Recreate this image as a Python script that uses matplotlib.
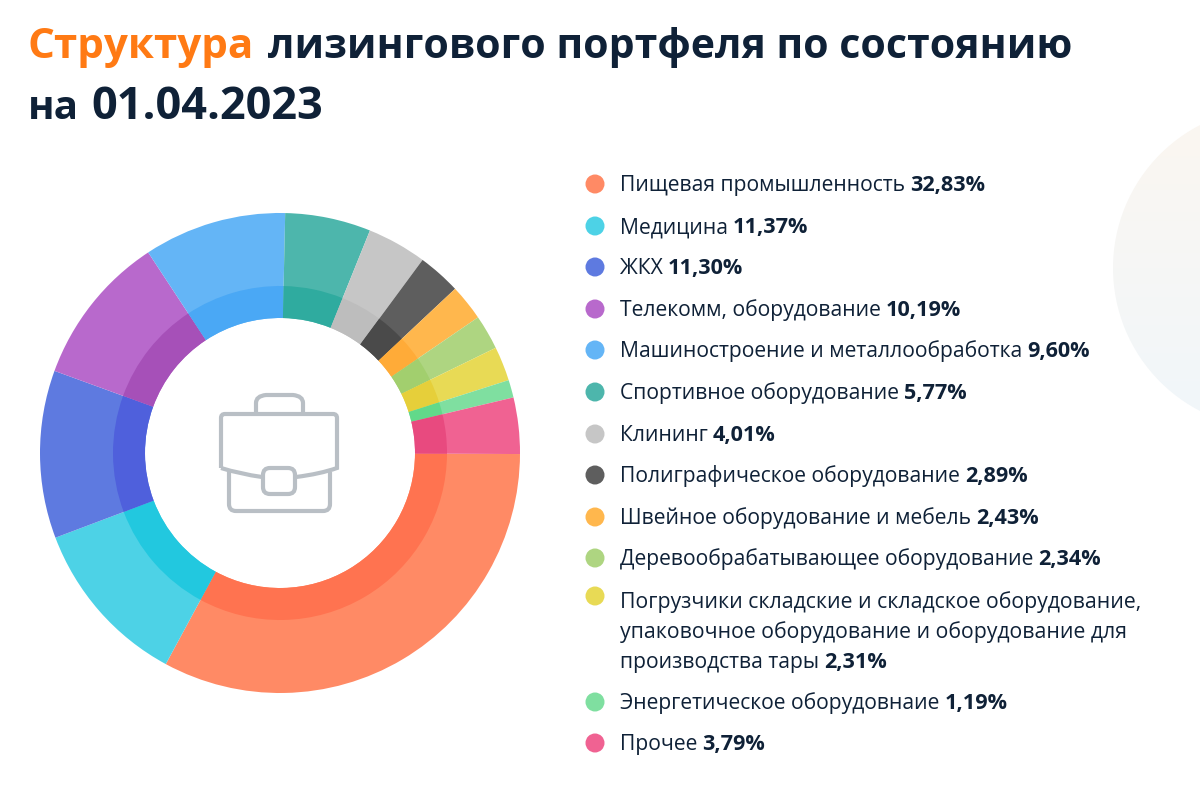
import numpy as np
import matplotlib
matplotlib.use('Agg')
import matplotlib.pyplot as plt
from matplotlib.patches import Circle, FancyBboxPatch, PathPatch
from matplotlib.path import Path
from matplotlib.colors import LinearSegmentedColormap

plt.rcParams['font.family'] = ['Open Sans', 'DejaVu Sans']

# data
labels = [
    ['Пищевая промышленность'],
    ['Медицина'],
    ['ЖКХ'],
    ['Телекомм, оборудование'],
    ['Машиностроение и металлообработка'],
    ['Спортивное оборудование'],
    ['Клининг'],
    ['Полиграфическое оборудование'],
    ['Швейное оборудование и мебель'],
    ['Деревообрабатывающее оборудование'],
    ['Погрузчики складские и складское оборудование,',
     'упаковочное оборудование и оборудование для',
     'производства тары'],
    ['Энергетическое оборудовнаие'],
    ['Прочее'],
]
values = [32.83, 11.37, 11.30, 10.19, 9.60, 5.77, 4.01, 2.89, 2.43, 2.34, 2.31, 1.19, 3.79]
outer_colors = ['#FF8A65', '#4DD2E6', '#5E7AE0', '#B869CC', '#64B5F6', '#4DB6AC', '#C6C6C6',
                '#5E5E5E', '#FFB74D', '#AED581', '#E8DA55', '#7FDFA0', '#F06292']
inner_colors = ['#FF7350', '#22C8DF', '#4F60DC', '#A650B8', '#4AA8F5', '#2FAB9F', '#BDBDBD',
                '#4A4A4A', '#FFAB38', '#A2CF6E', '#E6CF3A', '#62D98A', '#E84A7F']
legend_y = [184, 226, 267, 309, 350, 392, 434, 475, 517, 558, 596, 702, 743]

DARK = '#0F2137'
ORANGE = '#FF7A14'
W, H = 1200, 785

fig = plt.figure(figsize=(W / 100, H / 100), dpi=100)

# whole figure in pixels, y going down
bg = fig.add_axes([0, 0, 1, 1])
bg.set_xlim(0, W)
bg.set_ylim(H, 0)
bg.axis('off')

# pale circle at the right edge
grad = LinearSegmentedColormap.from_list('g', ['#FBF6F1', '#F1F7FA'])
im = bg.imshow(np.linspace(0, 1, 100).reshape(-1, 1), cmap=grad, aspect='auto',
               extent=(1113, 1200, 412, 125), zorder=0, interpolation='bilinear')
im.set_clip_path(Circle((1274, 268), 161, transform=bg.transData))
bg.set_xlim(0, W)
bg.set_ylim(H, 0)

# donut
cx, cy, r = 280, 453, 240
pie_ax = fig.add_axes([(cx - r) / W, 1 - (cy + r) / H, 2 * r / W, 2 * r / H])
pie_ax.pie(values, colors=outer_colors, startangle=-0.25, counterclock=False, radius=1,
           wedgeprops=dict(width=105 / 240, edgecolor='none'))
pie_ax.pie(values, colors=inner_colors, startangle=-0.25, counterclock=False, radius=167 / 240,
           wedgeprops=dict(width=32 / 240, edgecolor='none'))
pie_ax.set_xlim(-1, 1)
pie_ax.set_ylim(-1, 1)

# briefcase icon
ICON = '#B9BFC5'
lw = 3.0
handle = Path([(256, 413), (256, 403), (256, 396), (266, 395), (293, 395), (303, 396), (303, 403), (303, 413)],
              [1, 2, 3, 3, 2, 3, 3, 2])
bg.add_patch(PathPatch(handle, fc='none', ec=ICON, lw=lw))
top = Path([(221, 468), (221, 418), (221, 414), (225, 414), (333, 414), (337, 414), (337, 418),
            (337, 468), (320, 474), (296, 477), (296, 477), (262, 477), (240, 474), (221, 468)],
           [1, 2, 3, 3, 2, 3, 3, 2, 3, 3, 1, 1, 3, 3])
bg.add_patch(PathPatch(top, fc='none', ec=ICON, lw=lw))
bottom = Path([(229, 472), (229, 504), (229, 511), (236, 511), (323, 511), (330, 511), (330, 504), (330, 472)],
              [1, 2, 3, 3, 2, 3, 3, 2])
bg.add_patch(PathPatch(bottom, fc='none', ec=ICON, lw=lw))
bg.add_patch(FancyBboxPatch((268, 473), 22, 16, boxstyle='round,pad=5,rounding_size=7',
                            fc='white', ec=ICON, lw=lw))


def run_text(x, y, parts, gap):
    # parts drawn one after another on a line
    renderer = fig.canvas.get_renderer()
    for s, weight, color, size in parts:
        t = bg.text(x, y, s, fontsize=size, fontweight=weight, color=color, va='baseline', ha='left')
        x = t.get_window_extent(renderer).x1 + gap
    return x


# title
run_text(28, 58, [('Структура', 'bold', ORANGE, 30.3),
                  ('лизингового портфеля по состоянию', 'bold', DARK, 29.5)], 14)
run_text(28, 119, [('на', 'bold', DARK, 29), ('01.04.2023', 'bold', DARK, 32.5)], 12)

# legend
for lines, val, col, y in zip(labels, values, outer_colors, legend_y):
    bg.add_patch(Circle((595, y), 9.5, fc=col, ec='none'))
    pct = f'{val:.2f}%'.replace('.', ',')
    ty = y + 7
    if len(lines) > 1:
        ty = y + 12
        for line in lines[:-1]:
            bg.text(620, ty, line, fontsize=15.3, color=DARK, va='baseline')
            ty += 30
    run_text(620, ty, [(lines[-1], 'normal', DARK, 15.2), (pct, 'bold', DARK, 15.6)], 5)

fig.savefig('out.png', dpi=100)
